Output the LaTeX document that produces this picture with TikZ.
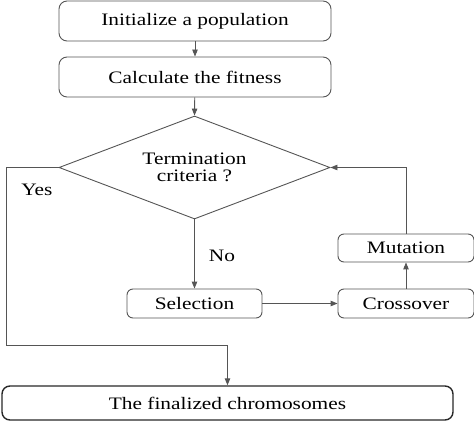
\documentclass[tikz,border=0pt]{standalone}
\usepackage{fontspec}
\setmainfont{Liberation Serif}[FakeStretch=1.22]
\usetikzlibrary{shapes.geometric,arrows.meta}
\definecolor{linegray}{RGB}{85,85,85}
\definecolor{darkline}{RGB}{40,40,40}
\begin{document}
\begin{tikzpicture}[x=1pt,y=-1pt,
  every node/.style={font=\fontsize{17.5}{17.5}\selectfont, text=black},
  bigbox/.style={draw=linegray, line width=0.9pt, rounded corners=8pt, minimum width=272pt, minimum height=40pt, inner sep=0pt},
  finbox/.style={draw=darkline, line width=1.4pt, rounded corners=8pt, minimum width=451pt, minimum height=34pt, inner sep=0pt},
  smallbox/.style={draw=linegray, line width=0.9pt, rounded corners=6pt, minimum width=136pt, minimum height=29pt, inner sep=0pt},
  decision/.style={draw=linegray, line width=0.9pt, diamond, aspect=2.63, minimum width=271pt, minimum height=103pt, inner sep=0pt, align=center},
  arr/.style={draw=linegray, line width=0.9pt, -{Triangle[length=7pt,width=5.5pt]}},
  conn/.style={draw=linegray, line width=0.9pt}
]
\useasboundingbox (0,0) rectangle (474,422);
\clip (0,0) rectangle (474,422);

\node[bigbox] (init) at (195,21) {Initialize a population};
\node[bigbox] (fit) at (195,77) {Calculate the fitness};
\node[decision] (dia) at (194.5,167.5) {Termination\\criteria ?};
\node[smallbox, minimum width=135pt] (sel) at (194.5,303.5) {Selection};
\node[smallbox] (cro) at (406,303.5) {Crossover};
\node[smallbox, minimum height=28pt] (mut) at (406,248) {Mutation};
\node[finbox] (fin) at (227.5,403) {The finalized chromosomes};

\node (yes) at (37,190) {Yes};
\node (no) at (222,256) {No};

\coordinate (ybend) at (6,345);

\draw[arr] (init) -- (fit);
\draw[arr] (fit) -- (dia.north);
\draw[arr] (dia.south) -- (sel.north);
\draw[arr] (sel) -- (cro);
\draw[arr] (cro) -- (mut);
\draw[arr] (mut.north) |- (dia.east);
\draw[arr] (dia.west) -| (ybend) -| (fin.north);
\end{tikzpicture}
\end{document}
